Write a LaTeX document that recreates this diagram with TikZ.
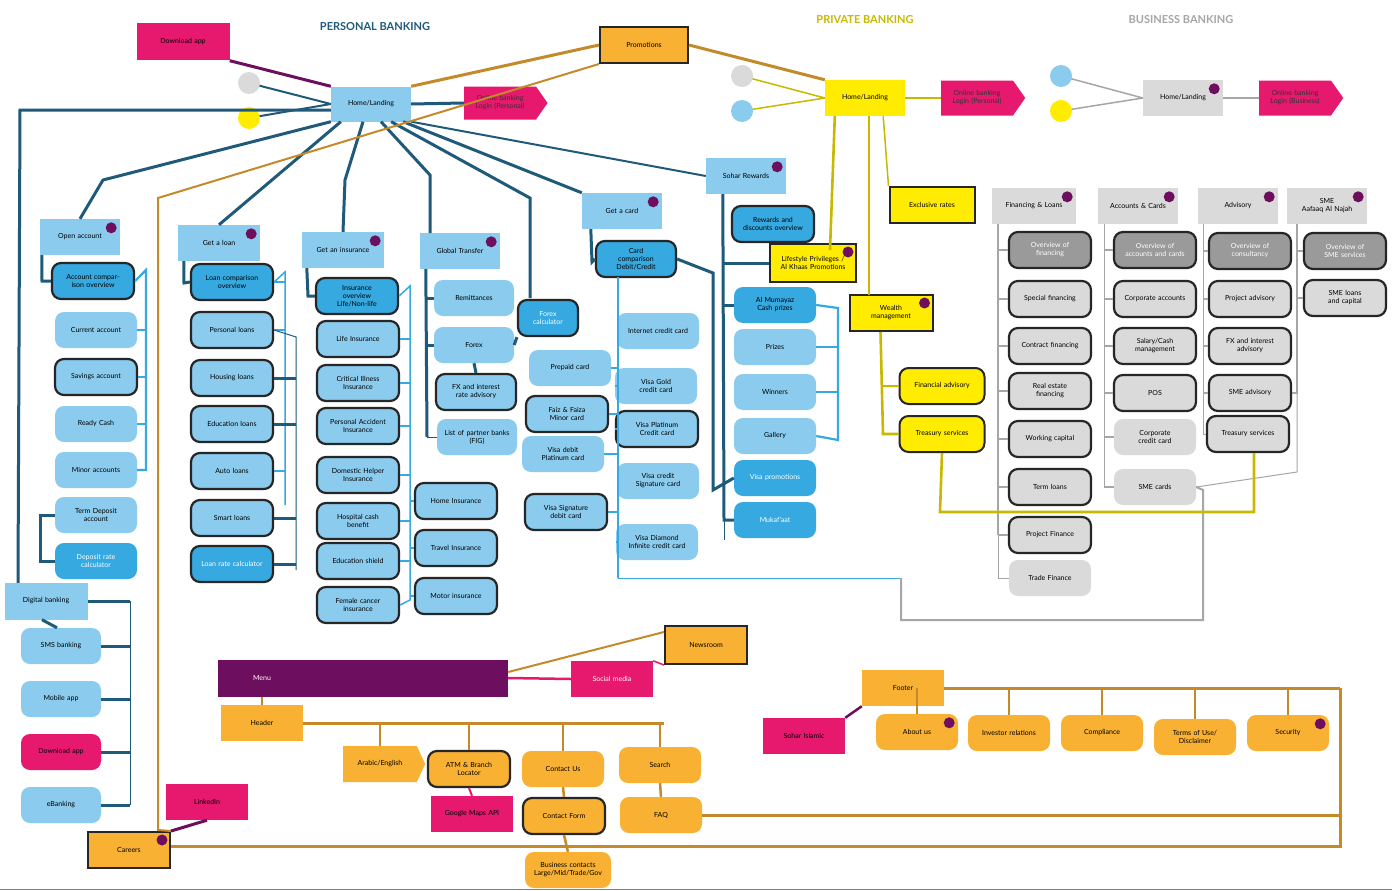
\documentclass[tikz,border=0pt]{standalone}
\usepackage{fontspec}
\setmainfont{Lato}
\usetikzlibrary{calc,shapes.symbols}
\definecolor{lblue}{HTML}{8ACBEE}
\definecolor{mblue}{HTML}{36A9E1}
\definecolor{dblue}{HTML}{1F5A7A}
\definecolor{pgrey}{HTML}{DADADA}
\definecolor{dgrey}{HTML}{9A9A9A}
\definecolor{lgrey}{HTML}{A6A6A6}
\definecolor{yel}{HTML}{FFEC00}
\definecolor{olive}{HTML}{C8B900}
\definecolor{ora}{HTML}{F8B133}
\definecolor{gold}{HTML}{C48A2A}
\definecolor{pink}{HTML}{E6196E}
\definecolor{plum}{HTML}{6D0F5E}
\newcommand{\dotat}[1]{\fill[plum] ([xshift=-9pt,yshift=-9pt]#1.north east) circle (5.5pt);}
\tikzset{
  box/.style={minimum width=82pt,minimum height=36pt,text width=78pt,align=center,inner sep=1pt,font=\fontsize{7}{8}\selectfont},
  rbox/.style={box,rounded corners=9pt},
  lb/.style={rbox,fill=lblue},
  lbk/.style={lb,draw=black!85,line width=2.2pt},
  mb/.style={rbox,fill=mblue,text=white},
  mbk/.style={mb,draw=black!85,line width=2.2pt,text=black},
  hdr/.style={box,fill=lblue},
  gr/.style={rbox,fill=pgrey},
  gk/.style={gr,draw=black!85,line width=2.2pt},
  dg/.style={rbox,fill=dgrey,draw=black!85,line width=2.2pt,text=white},
  ghdr/.style={box,fill=pgrey},
  ye/.style={box,fill=yel,draw=black!85,line width=2pt},
  yek/.style={ye,rounded corners=9pt},
  or/.style={rbox,fill=ora},
  ork/.style={or,draw=black!85,line width=2.2pt},
  orr/.style={box,fill=ora},
  pk/.style={box,fill=pink},
  sig/.style={box,shape=signal,signal to=east,signal pointer angle=110,text width=70pt},
  title/.style={font=\bfseries\fontsize{11}{12}\selectfont},
  dl/.style={draw=dblue,line width=3pt},
  dlt/.style={draw=dblue,line width=1pt},
  bl/.style={draw=mblue,line width=2.2pt},
  gl/.style={draw=lgrey,line width=2.6pt},
  glt/.style={draw=lgrey,line width=1pt},
  yl/.style={draw=olive,line width=2.6pt},
  ol/.style={draw=gold,line width=3pt},
  olt/.style={draw=gold,line width=1pt},
}
\begin{document}
\begin{tikzpicture}[x=1pt,y=-1pt]
\useasboundingbox[fill=white] (0,0) rectangle (1392,891);
\draw[gray,line width=1pt] (0,889) -- (1392,889);

% titles
\node[title,text=dblue] at (375,27) {PERSONAL BANKING};
\node[title,text=olive] at (865,20) {PRIVATE BANKING};
\node[title,text=lgrey] at (1181,20) {BUSINESS BANKING};

% top row
\node[pk,minimum width=93pt,minimum height=37pt] (dlapp) at (183,42) {Download app};
\node[hdr,minimum width=78pt,minimum height=35pt] (homeP) at (371,104) {Home/Landing};
\node[pk,sig,text=black!80,minimum height=33pt] (onlineP) at (500,103) {Online banking\\Login (Personal)};
\node[orr,draw=black!85,line width=2pt,minimum width=88pt] (promo) at (644,45) {Promotions};
\node[box,fill=yel,minimum width=80pt] (homePr) at (865,98) {Home/Landing};
\node[pk,sig,text=black!80,minimum height=35pt] (onlinePr) at (977,98) {Online banking\\Login (Personal)};
\node[ghdr,minimum width=78pt] (homeB) at (1183,98) {Home/Landing};
\dotat{homeB}
\node[pk,sig,text=black!80,minimum height=35pt] (onlineB) at (1295,98) {Online banking\\Login (Business)};
\coordinate (cP1) at (249,83); \coordinate (cP2) at (249,118);
\coordinate (cR1) at (742,76); \coordinate (cR2) at (742,111);
\coordinate (cB1) at (1061,76); \coordinate (cB2) at (1061,111);

% top connectors
\draw[draw=plum,line width=3pt] (dlapp.south east) -- (homeP.north west);
\draw[ol] (homeP.north east) -- (promo.west);
\draw[ol] (promo.east) -- (homePr.north west);
\draw[dlt,line width=2pt] (cP1) -- (homeP.west) (cP2) -- (homeP.west);
\draw[dl] (homeP.east) -- (onlineP.west);
\draw[draw=olive,line width=1.5pt] (cR1) -- (homePr.west) (cR2) -- (homePr.west);
\draw[yl] (homePr.east) -- (onlinePr.west);
\draw[gl,line width=1.5pt] (cB1) -- (homeB.west) (cB2) -- (homeB.west);
\draw[gl] (homeB.east) -- (onlineB.west);
\fill[pgrey] (cP1) circle (11pt) (cR1) circle (11pt);
\fill[yel] (cP2) circle (11pt) (cB2) circle (11pt);
\fill[lblue] (cR2) circle (11pt) (cB1) circle (11pt);

% open account
\node[hdr,minimum width=80pt] (openacc) at (80,237) {Open account};
\dotat{openacc}
\node[mbk,text width=80pt] (acccomp) at (93,281) {Account comparison overview};
\node[lb] (current) at (96,330) {Current account};
\node[lbk] (savings) at (96,377) {Savings account};
\node[lb] (ready) at (96,424) {Ready Cash};
\node[lb] (minor) at (96,470) {Minor accounts};
\node[lb] (termdep) at (96,515) {Term Deposit\\account};
\node[mb] (deprate) at (96,561) {Deposit rate\\calculator};
\draw[dl] (openacc.south west) ++(2,0) -- (42,281) -- (acccomp.west);
\draw[bl] (acccomp.east) -- (146,270) -- (146,470) -- (minor.east);
\foreach \n in {current,savings,ready} \draw[bl] (\n.east) -- (146,0 |- \n.east);
\draw[dl] (termdep.west) -- (40,515) -- (40,561) -- (deprate.west);

% get a loan
\node[hdr,minimum width=82pt] (getloan) at (219,243) {Get a loan};
\dotat{getloan}
\node[mbk] (loancomp) at (232,282) {Loan comparison\\overview};
\node[lbk] (perloan) at (232,330) {Personal loans};
\node[lbk] (houloan) at (232,378) {Housing loans};
\node[lbk] (eduloan) at (232,424) {Education loans};
\node[lbk] (autoloan) at (232,471) {Auto loans};
\node[lbk] (smartloan) at (232,518) {Smart loans};
\node[mbk,text=white] (loanrate) at (232,564) {Loan rate calculator};
\draw[dl] (getloan.south west) ++(6,0) -- (184,283) -- (loancomp.west);
\draw[bl,line width=1.5pt] (loancomp.east) -- (285,272) -- (285,505);
\foreach \n in {loancomp,perloan,houloan,eduloan,autoloan} \draw[bl,line width=1.5pt] (\n.east) -- (285,0 |- \n.east);
\draw[dlt] (perloan.east) -- (296,337) -- (296,570);
\foreach \n in {houloan,eduloan,smartloan,loanrate} \draw[dl] (\n.east) -- (296,0 |- \n.east);

% get an insurance
\node[hdr,minimum width=82pt] (getins) at (343,250) {Get an insurance};
\dotat{getins}
\node[mbk] (insov) at (357,296) {Insurance\\overview\\Life/Non-life};
\node[lbk] (lifeins) at (358,339) {Life Insurance};
\node[lbk] (critins) at (358,383) {Critical Illness\\Insurance};
\node[lbk] (accins) at (358,426) {Personal Accident\\Insurance};
\node[lbk] (domins) at (358,475) {Domestic Helper\\Insurance};
\node[lbk] (hosins) at (358,521) {Hospital cash\\benefit};
\node[lbk] (edushield) at (358,561) {Education shield};
\node[lbk] (femins) at (358,605) {Female cancer\\insurance};
\node[lbk] (homeins) at (456,501) {Home Insurance};
\node[lbk] (travins) at (456,548) {Travel Insurance};
\node[lbk] (motins) at (456,596) {Motor insurance};
\draw[dl] (getins.south west) ++(5,0) -- (308,296) -- (insov.west);
\draw[bl,line width=1.5pt] (insov.east) -- (410,286) -- (410,600) -- (femins.east);
\foreach \n in {lifeins,critins,accins,domins,hosins,edushield} \draw[bl,line width=1.5pt] (\n.east) -- (410,0 |- \n.east);
\foreach \n in {homeins,travins,motins} \draw[bl,line width=1.5pt] (\n.west) -- (410,0 |- \n.west);

% global transfer
\node[hdr,minimum width=80pt] (global) at (460,251) {Global Transfer};
\dotat{global}
\node[lb,minimum width=78pt] (remit) at (474,298) {Remittances};
\node[lb,minimum width=78pt] (forex) at (474,345) {Forex};
\node[mbk,minimum width=60pt,text width=56pt,text=white] (forexcalc) at (548,318) {Forex\\calculator};
\node[lbk,minimum width=78pt] (fxrate) at (476,392) {FX and interest\\rate advisory};
\node[lb,minimum width=80pt] (partner) at (477,437) {List of partner banks\\(FIG)};
\draw[dl] (global.south west) ++(6,0) -- (427,437);
\draw[dlt] (427,437) -- (partner.west);
\foreach \n in {remit,forex} \draw[dl] (\n.west) -- (427,0 |- \n.west);
\draw[dl] (forex.east) -- (forexcalc.south west);
\draw[dl] (forex.south) -- (fxrate.north);

% get a card
\node[hdr,minimum width=80pt] (getcard) at (622,211) {Get a card};
\dotat{getcard}
\node[mbk,minimum width=80pt] (cardcomp) at (636,259) {Card\\comparison\\Debit/Credit};
\node[lb] (internet) at (658,331) {Internet credit card};
\node[lb] (prepaid) at (570,368) {Prepaid card};
\node[lb] (visagold) at (656,386) {Visa Gold\\credit card};
\node[lbk] (faiz) at (567,414) {Faiz \& Faiza\\Minor card};
\node[lbk] (visaplat) at (657,429) {Visa Platinum\\Credit card};
\node[lb] (visadebit) at (563,454) {Visa debit\\Platinum card};
\node[lb] (visasig) at (658,481) {Visa credit\\Signature card};
\node[lbk] (sigdebit) at (566,512) {Visa Signature\\debit card};
\node[lb] (diamond) at (657,542) {Visa Diamond\\Infinite credit card};
\draw[dl] (getcard.south west) ++(9,0) -- (592,262) -- (cardcomp.west);
\draw[bl] (618,277) -- (618,578);
\foreach \n in {internet,visagold,visaplat,visasig,diamond} \draw[bl] (\n.west) -- (618,0 |- \n.west);
\foreach \n in {prepaid,faiz,visadebit,sigdebit} \draw[bl] (\n.east) -- (618,0 |- \n.east);

% sohar rewards
\node[hdr,minimum width=80pt] (sohar) at (746,176) {Sohar Rewards};
\dotat{sohar}
\node[mbk] (rewards) at (773,224) {Rewards and\\discounts overview};
\node[ye,minimum width=82pt,minimum height=38pt,text width=84pt] (lifestyle) at (813,263) {Lifestyle Privileges /\\Al Khaas Promotions};
\dotat{lifestyle}
\node[mb,text=black] (mumayaz) at (775,305) {Al Mumayaz\\Cash prizes};
\node[lb] (prizes) at (775,347) {Prizes};
\node[lb] (winners) at (775,392) {Winners};
\node[lb] (gallery) at (775,436) {Gallery};
\node[mb] (visapromo) at (775,478) {Visa promotions};
\node[mb] (mukafaat) at (775,520) {Mukaf'aat};
\draw[dl] (cardcomp.east) -- (713,273) -- (713,490) -- (visapromo.west);
\draw[dl] (sohar.south west) ++(17,0) -- (724,520) -- (mukafaat.west);
\draw[dlt] (724,520) -- (724,540);
\foreach \n in {lifestyle,mumayaz} \draw[dl] (\n.west) -- (724,0 |- \n.west);
\draw[bl] (mumayaz.east) -- (838,308) -- (838,440) -- (gallery.east);
\foreach \n in {prizes,winners} \draw[bl] (\n.east) -- (838,0 |- \n.east);

% private banking
\node[ye,minimum width=85pt] (exclusive) at (932,205) {Exclusive rates};
\node[ye,minimum width=83pt] (wealth) at (891,313) {Wealth\\management};
\dotat{wealth}
\node[yek,minimum width=85pt] (finadv) at (942,386) {Financial advisory};
\node[yek,minimum width=85pt] (treasP) at (942,434) {Treasury services};
\draw[yl] (homePr.south west) ++(10,0) -- (830,250);
\draw[yl] (homePr.south) ++(4,0) -- (869,295);
\draw[yl,line width=1.5pt] (homePr.south east) ++(-22,0) -- (exclusive.north west);
\draw[yl] (wealth.south west) ++(32,0) -- (883,434) -- (treasP.west);
\draw[yl] (finadv.west) -- (883,386);

% business banking
\node[ghdr,minimum width=84pt] (finloans) at (1034,206) {Financing \& Loans};
\dotat{finloans}
\node[dg] (ovfin) at (1050,250) {Overview of\\financing};
\node[gk] (special) at (1050,299) {Special financing};
\node[gk] (contract) at (1050,346) {Contract financing};
\node[gk] (realest) at (1050,391) {Real estate\\financing};
\node[gk] (working) at (1050,439) {Working capital};
\node[gk] (termloan) at (1050,487) {Term loans};
\node[gk] (project) at (1050,535) {Project Finance};
\node[gr] (trade) at (1050,578) {Trade Finance};
\draw[gl] (998,224) -- (998,535);
\draw[glt] (998,535) -- (998,578) -- (trade.west);
\foreach \n in {ovfin,special,contract,realest,working,termloan,project} \draw[gl] (\n.west) -- (998,0 |- \n.west);

\node[ghdr,minimum width=80pt] (acccards) at (1138,206) {Accounts \& Cards};
\dotat{acccards}
\node[dg] (ovacc) at (1155,250) {Overview of\\accounts and cards};
\node[gk] (corpacc) at (1155,299) {Corporate accounts};
\node[gk] (salary) at (1155,346) {Salary/Cash\\management};
\node[gk] (pos) at (1155,393) {POS};
\node[gr] (corpcc) at (1155,437) {Corporate\\credit card};
\node[gr] (smecards) at (1155,487) {SME cards};
\draw[glt] (1104,224) -- (1104,487);
\foreach \n in {ovacc,corpacc,salary,pos,corpcc,smecards} \draw[gl] (\n.west) -- (1104,0 |- \n.west);

\node[ghdr,minimum width=80pt] (advisory) at (1238,206) {Advisory};
\dotat{advisory}
\node[dg] (ovcons) at (1250,251) {Overview of\\consultancy};
\node[gk] (projadv) at (1250,299) {Project advisory};
\node[gk] (fxadv) at (1250,346) {FX and interest\\advisory};
\node[gk] (smeadv) at (1250,393) {SME advisory};
\node[gk] (treasB) at (1248,434) {Treasury services};
\draw[glt] (1203,224) -- (1203,434) -- (treasB.west);
\foreach \n in {ovcons,projadv,fxadv,smeadv} \draw[gl] (\n.west) -- (1203,0 |- \n.west);

\node[ghdr,minimum width=80pt] (sme) at (1327,206) {SME\\Aafaaq Al Najah};
\dotat{sme}
\node[dg] (ovsme) at (1345,251) {Overview of\\SME services};
\node[gk] (smeloans) at (1345,298) {SME loans\\and capital};
\draw[gl] (1297,224) -- (1297,393) -- (smeadv.east);
\draw[glt] (1297,393) -- (1297,472) -- (smecards.east);
\foreach \n in {ovsme,smeloans} \draw[gl] (\n.west) -- (1297,0 |- \n.west);

\draw[bl,line width=1pt] (618,578) -- (901,578);
\draw[glt,line width=2pt] (901,578) -- (901,620) -- (1203,620) -- (1203,490) -- (smecards.east);
\draw[yl] (treasB.south) ++(6,0) -- (1254,512) -- (940,512) -- (treasP.south);

% home links, personal
\draw[dl] (homeP.west) ++(0,6) -- (20,110) -- (18,583);
\draw[dl] (homeP.south west) -- (103,180) -- (openacc.north);
\draw[dl] (homeP.south west) ++(10,0) -- (getloan.north);
\draw[dl] (homeP.south) ++(-8,0) -- (345,180) -- (getins.north);
\draw[dl] (homeP.south) ++(10,0) -- (430,175) -- (430,233);
\draw[dl] (homeP.south east) ++(-20,0) -- (530,198) -- (530,298);
\draw[dl] (homeP.south east) ++(-8,0) -- (getcard.north west);
\draw[dl,line width=2pt] (homeP.south east) -- (sohar.west);

% digital banking
\node[hdr,minimum width=83pt,minimum height=37pt] (digital) at (46,601) {Digital banking};
\node[lb,minimum width=78pt] (sms) at (61,646) {SMS banking};
\node[lb,minimum width=78pt] (mobile) at (61,699) {Mobile app};
\node[rbox,fill=pink,minimum width=78pt] (dlapp2) at (61,752) {Download app};
\node[lb,minimum width=78pt] (ebank) at (61,805) {eBanking};
\draw[dlt] (130,601) -- (130,805);
\draw[dl] (digital.south) ++(-4,0) -- ($(sms.north)+(-4,0)$);
\foreach \n in {digital,sms,mobile,dlapp2,ebank} \draw[dl] (\n.east) -- (130,0 |- \n.east);

% menu, header, footer
\node[box,fill=plum,minimum width=290pt,text width=280pt,align=left,text=white,minimum height=37pt] (menu) at (363,678) {\hspace*{30pt}Menu};
\node[pk,text=white] (social) at (612,679) {Social media};
\node[orr,draw=black!85,line width=2pt,minimum width=82pt,minimum height=38pt] (news) at (706,645) {Newsroom};
\node[orr] (header) at (262,723) {Header};
\node[orr,sig,signal pointer angle=130] (arabic) at (380,764) {Arabic/English};
\node[ork] (atm) at (469,769) {ATM \& Branch\\Locator};
\node[pk] (google) at (472,814) {Google Maps API};
\node[or] (contactus) at (563,769) {Contact Us};
\node[ork] (contactf) at (564,816) {Contact Form};
\node[or,minimum width=86pt] (busc) at (568,870) {Business contacts\\Large/Mid/Trade/Gov};
\node[or] (search) at (660,765) {Search};
\node[or] (faq) at (661,815) {FAQ};
\node[pk] (linkedin) at (207,802) {LinkedIn};
\node[orr,draw=black!85,line width=2pt] (careers) at (129,850) {Careers};
\dotat{careers}
\node[orr] (footer) at (903,688) {Footer};
\node[pk] (islamic) at (804,736) {Sohar Islamic};
\node[or] (about) at (917,732) {About us};
\dotat{about}
\node[or] (investor) at (1009,733) {Investor relations};
\node[or] (compl) at (1102,733) {Compliance};
\node[or] (terms) at (1195,737) {Terms of Use/\\Disclaimer};
\node[or] (security) at (1288,733) {Security};
\dotat{security}

\draw[olt,line width=2pt] (promo.south west) -- (158,198) -- (158,830) -- (careers.north east);
\draw[olt,line width=2pt] (menu.east) ++(0,-6) -- (news.west |- 0,632);
\draw[draw=pink,line width=2.5pt] (menu.east) -- (social.west);
\draw[draw=pink,line width=1.5pt] (social.north east) -- (news.south west);
\draw[olt,line width=2pt] (header.north) -- (header.north |- menu.south);
\draw[ol] (header.east) -- (664,723);
\foreach \n in {arabic,atm,contactus,search} \draw[olt,line width=2pt] (\n.north |- 0,723) -- (\n.north);
\draw[draw=pink,line width=2pt] (atm.south) -- (google.north);
\draw[olt,line width=2.5pt] (contactus.south) -- (contactf.north);
\draw[olt,line width=2.5pt] (contactf.south) -- (busc.north);
\draw[olt,line width=2.5pt] (search.south) -- (faq.north);
\draw[draw=plum,line width=3pt] (linkedin.south) -- (careers.north east);
\draw[ol] (careers.east) ++(0,-4) -- (1340,846) -- (1340,688);
\draw[ol] (faq.east) -- (1340,815);
\draw[ol] (footer.east) -- (1340,688);
\foreach \n in {about,investor,compl,terms,security} \draw[olt,line width=2pt] (\n.north |- 0,688) -- (\n.north);
\draw[draw=plum,line width=2.5pt] (footer.south west) -- (islamic.north east);
\end{tikzpicture}
\end{document}
